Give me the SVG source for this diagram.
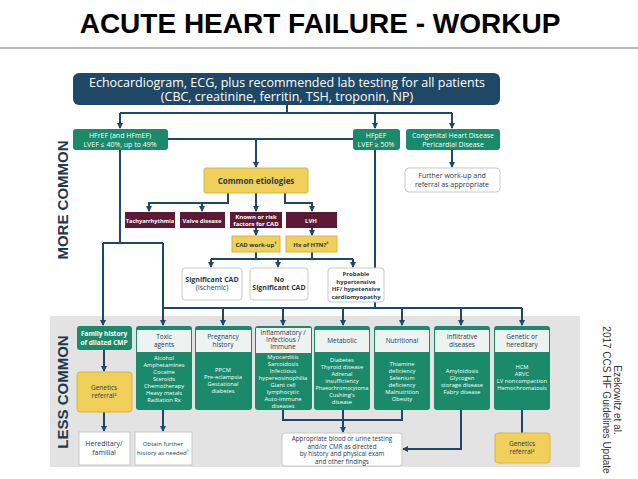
<svg xmlns="http://www.w3.org/2000/svg" width="638" height="479" viewBox="0 0 638 479">
<defs>
<marker id="a" markerWidth="6" markerHeight="6" refX="5" refY="3" orient="auto" markerUnits="userSpaceOnUse"><path d="M0,0 L6,3 L0,6 z" fill="#1e4866"/></marker>
<style>
.t{font-family:"Open Sans","DejaVu Sans",sans-serif;text-anchor:middle}
.w{fill:#fff}.d{fill:#1e3a4a}
.s{font-size:7px}
.c{stroke:#1e4866;stroke-width:2;fill:none}
.g{fill:#1a8a6a}.y{fill:#f0cf5a;stroke:#d9b640}.r{fill:#5b1a35}.b{fill:#fff;stroke:#c8c8c8}
.h{fill:#eef3f1}
.bd{font-size:5.8px}
</style>
</defs>
<rect width="638" height="479" fill="#fff"/>
<text x="320" y="33" font-family="Liberation Sans,Arial,sans-serif" font-weight="bold" font-size="28" text-anchor="middle" fill="#000">ACUTE HEART FAILURE - WORKUP</text>
<line x1="0" y1="48" x2="638" y2="48" stroke="#bbb" stroke-width="2"/>
<rect x="50" y="316" width="530" height="151" fill="#e3e3e3"/>
<g id="labels" font-family="Liberation Sans,Arial,sans-serif" font-weight="bold" font-size="15" fill="#1e3a4a" text-anchor="middle">
<text transform="translate(68,200) rotate(-90)">MORE COMMON</text>
<text transform="translate(68,392) rotate(-90)">LESS COMMON</text>
</g>
<g id="cite" font-family="Liberation Sans,Arial,sans-serif" font-size="10" fill="#333" text-anchor="middle">
<text transform="translate(614,400) rotate(90)">Ezekowitz et al.</text>
<text transform="translate(603,400) rotate(90)">2017 CCS HF Guidelines Update</text>
</g>
<g id="connectors" class="c">
<path d="M287,105 V113 M120,113 H452"/>
<path d="M120,113 V128" marker-end="url(#a)"/>
<path d="M375,113 V128" marker-end="url(#a)"/>
<path d="M452,113 V128" marker-end="url(#a)"/>
<path d="M168,139 H353"/>
<path d="M256,139 V167" marker-end="url(#a)"/>
<path d="M452,150 V167" marker-end="url(#a)"/>
<path d="M228,193 V203 H149 V211" marker-end="url(#a)"/>
<path d="M202,203 V211" marker-end="url(#a)"/>
<path d="M256,193 V211" marker-end="url(#a)"/>
<path d="M285,193 V203 H312 V211" marker-end="url(#a)"/>
<path d="M256,228 V235" marker-end="url(#a)"/>
<path d="M312,228 V235" marker-end="url(#a)"/>
<path d="M256,252 V259 M312,252 V259 M211,259 H353"/>
<path d="M211,259 V267" marker-end="url(#a)"/>
<path d="M278,259 V267" marker-end="url(#a)"/>
<path d="M353,259 V267" marker-end="url(#a)"/>
<path d="M120,150 V243 M103,243 H163 M163,243 V308 M163,308 H522 M375,150 V308"/>
<path d="M103,243 V325" marker-end="url(#a)"/>
<path d="M163,308 V325" marker-end="url(#a)"/>
<path d="M223,308 V325" marker-end="url(#a)"/>
<path d="M283,308 V325" marker-end="url(#a)"/>
<path d="M343,308 V325" marker-end="url(#a)"/>
<path d="M402,308 V325" marker-end="url(#a)"/>
<path d="M461,308 V325" marker-end="url(#a)"/>
<path d="M522,308 V325" marker-end="url(#a)"/>
<path d="M104,350 V371" marker-end="url(#a)"/>
<path d="M104,412 V431" marker-end="url(#a)"/>
<path d="M163,410 V431" marker-end="url(#a)"/>
<path d="M283,410 V420 H402 V410"/>
<path d="M343,410 V432" marker-end="url(#a)"/>
<path d="M461,410 V449 H403" marker-end="url(#a)"/>
<path d="M522,410 V433"/>
</g>
<g id="top"><rect x="73" y="73" width="427" height="32" rx="6" fill="#1e4866"/>
<text class="t w" x="287" y="87" font-size="12.5">Echocardiogram, ECG, plus recommended lab testing for all patients</text>
<text class="t w" x="287" y="101" font-size="12.5">(CBC, creatinine, ferritin, TSH, troponin, NP)</text></g>
<g id="hfref"><rect class="g" x="73" y="129" width="95" height="21" rx="3"/><text class="t w s" x="120" y="137.5">HFrEF (and HFmEF)</text><text class="t w s" x="120" y="146.5">LVEF ≤ 40%, up to 49%</text></g>
<g id="hfpef"><rect class="g" x="353" y="129" width="47" height="21" rx="3"/><text class="t w s" x="376" y="137.5">HFpEF</text><text class="t w s" x="376" y="146.5">LVEF ≥ 50%</text></g>
<g id="congenital"><rect class="g" x="406" y="129" width="94" height="21" rx="3"/><text class="t w s" x="453" y="137.5">Congenital Heart Disease</text><text class="t w s" x="453" y="146.5">Pericardial Disease</text></g>
<g id="further"><rect class="b" x="405" y="168" width="95" height="24" rx="4"/><text class="t d s" x="452" y="178">Further work-up and</text><text class="t d s" x="452" y="187">referral as appropriate</text></g>
<g id="common"><rect class="y" x="204" y="168" width="104" height="25" rx="2"/><text class="t d" x="256" y="184" font-size="8" font-weight="bold">Common etiologies</text></g>
<g id="tachy"><rect class="r" x="125" y="212" width="50" height="16"/><text class="t w" x="150" y="222.5" font-size="5.6" font-weight="bold">Tachyarrhythmia</text></g>
<g id="valve"><rect class="r" x="180" y="212" width="45" height="16"/><text class="t w" x="202" y="222.5" font-size="5.8" font-weight="bold">Valve disease</text></g>
<g id="known"><rect class="r" x="230" y="212" width="52" height="16"/><text class="t w" x="256" y="219" font-size="6" font-weight="bold">Known or risk</text><text class="t w" x="256" y="226" font-size="6" font-weight="bold">factors for CAD</text></g>
<g id="lvh"><rect class="r" x="286" y="212" width="51" height="16"/><text class="t w" x="311" y="222.5" font-size="6" font-weight="bold">LVH</text></g>
<g id="cadwork"><rect class="y" x="232" y="236" width="48" height="16"/><text class="t d" x="256" y="246.5" font-size="6" font-weight="bold">CAD work-up¹</text></g>
<g id="htn"><rect class="y" x="286" y="236" width="51" height="16"/><text class="t d" x="311" y="246.5" font-size="6" font-weight="bold">Hx of HTN?¹</text></g>
<g id="sigcad"><rect class="b" x="182" y="268" width="60" height="32" rx="3"/><text class="t d s" x="212" y="282" font-weight="bold">Significant CAD</text><text class="t d s" x="212" y="290">(Ischemic)</text></g>
<g id="nosig"><rect class="b" x="250" y="268" width="58" height="32" rx="3"/><text class="t d s" x="279" y="282" font-weight="bold">No</text><text class="t d s" x="279" y="290" font-weight="bold">Significant CAD</text></g>
<g id="probable"><rect class="b" x="328" y="268" width="56" height="34" rx="3"/><g class="t d" font-size="6" font-weight="bold"><text x="356" y="276">Probable</text><text x="356" y="283.5">hypertensive</text><text x="356" y="291">HF/ hypetensive</text><text x="356" y="298.5">cardiomyopathy</text></g></g>
<g id="family"><rect class="g" x="77" y="326" width="55" height="24" rx="3"/><text class="t w" font-size="6.5" x="104" y="336" font-weight="bold">Family history</text><text class="t w" font-size="6.5" x="104" y="345" font-weight="bold">of dilated CMP</text></g>
<g id="genref1"><rect class="y" x="77" y="372" width="55" height="40" rx="3"/><text class="t d" x="104" y="390" font-size="6.5">Genetics</text><text class="t d" x="104" y="398" font-size="6.5">referral²</text></g>
<g id="hered"><rect class="b" x="79" y="432" width="51" height="33"/><text class="t d s" x="104" y="446">Hereditary/</text><text class="t d s" x="104" y="455">familial</text></g>
<g id="obtain"><rect class="b" x="135" y="432" width="57" height="33"/><text class="t d" x="163" y="446" font-size="6">Obtain further</text><text class="t d" x="163" y="455" font-size="6">history as needed¹</text></g>
<g class="t" font-size="6.5">
<g id="toxic"><rect class="g" x="136" y="326" width="56" height="84" rx="3"/><rect class="h" x="137" y="330" width="54" height="22"/><text class="d" x="164" y="339">Toxic</text><text class="d" x="164" y="347">agents</text>
<g class="w bd"><text x="164" y="360">Alcohol</text><text x="164" y="367">Amphetamines</text><text x="164" y="374">Cocaine</text><text x="164" y="381">Steroids</text><text x="164" y="388">Chemotherapy</text><text x="164" y="395">Heavy metals</text><text x="164" y="402">Radiation Rx</text></g></g>
<g id="pregnancy"><rect class="g" x="195" y="326" width="57" height="84" rx="3"/><rect class="h" x="196" y="330" width="55" height="22"/><text class="d" x="223" y="339">Pregnancy</text><text class="d" x="223" y="347">history</text>
<g class="w bd"><text x="223" y="372">PPCM</text><text x="223" y="379">Pre-eclampsia</text><text x="223" y="386">Gestational</text><text x="223" y="393">diabetes</text></g></g>
<g id="inflam"><rect class="g" x="255" y="326" width="57" height="84" rx="3"/><rect class="h" x="256" y="328" width="55" height="25"/><text class="d" x="283" y="335">Inflammatory /</text><text class="d" x="283" y="342">Infectious /</text><text class="d" x="283" y="349">Immune</text>
<g class="w bd"><text x="283" y="359">Myocarditis</text><text x="283" y="366">Sarcoidosis</text><text x="283" y="373">Infectious</text><text x="283" y="380">hypereosinophilia</text><text x="283" y="387">Giant cell</text><text x="283" y="394">lymphocytic</text><text x="283" y="401">Auto-immune</text><text x="283" y="408">diseases</text></g></g>
<g id="metabolic"><rect class="g" x="314" y="326" width="56" height="84" rx="3"/><rect class="h" x="315" y="330" width="54" height="22"/><text class="d" x="342" y="343">Metabolic</text>
<g class="w bd"><text x="342" y="362">Diabetes</text><text x="342" y="369">Thyroid disease</text><text x="342" y="376">Adrenal</text><text x="342" y="383">insufficiency</text><text x="342" y="390" font-size="5.3">Phaeochromocytoma</text><text x="342" y="397">Cushing's</text><text x="342" y="404">disease</text></g></g>
<g id="nutritional"><rect class="g" x="374" y="326" width="56" height="84" rx="3"/><rect class="h" x="375" y="330" width="54" height="22"/><text class="d" x="402" y="343">Nutritional</text>
<g class="w bd"><text x="402" y="366">Thiamine</text><text x="402" y="373">deficiency</text><text x="402" y="380">Selenium</text><text x="402" y="387">deficiency</text><text x="402" y="394">Malnutrition</text><text x="402" y="401">Obesity</text></g></g>
<g id="infiltrative"><rect class="g" x="434" y="326" width="56" height="84" rx="3"/><rect class="h" x="435" y="330" width="54" height="22"/><text class="d" x="462" y="339">Infiltrative</text><text class="d" x="462" y="347">diseases</text>
<g class="w bd"><text x="462" y="373">Amyloidosis</text><text x="462" y="380">Glycogen</text><text x="462" y="387">storage disease</text><text x="462" y="394">Fabry disease</text></g></g>
<g id="genetic"><rect class="g" x="494" y="326" width="56" height="84" rx="3"/><rect class="h" x="495" y="330" width="54" height="22"/><text class="d" x="522" y="339">Genetic or</text><text class="d" x="522" y="347">hereditary</text>
<g class="w bd"><text x="522" y="369">HCM</text><text x="522" y="376">ARVC</text><text x="522" y="383">LV noncompaction</text><text x="522" y="390">Hemochromatosis</text></g></g>
</g>
<g id="appropriate"><rect class="b" x="282" y="433" width="120" height="33" rx="3"/><g class="t d" font-size="6.3"><text x="342" y="441">Appropriate blood or urine testing</text><text x="342" y="448.5">and/or CMR as directed</text><text x="342" y="456">by history and physical exam</text><text x="342" y="463.5">and other findings</text></g></g>
<g id="genref2"><rect class="y" x="495" y="433" width="55" height="30" rx="3"/><text class="t d" x="522" y="446" font-size="6.5">Genetics</text><text class="t d" x="522" y="454" font-size="6.5">referral²</text></g>
</svg>
